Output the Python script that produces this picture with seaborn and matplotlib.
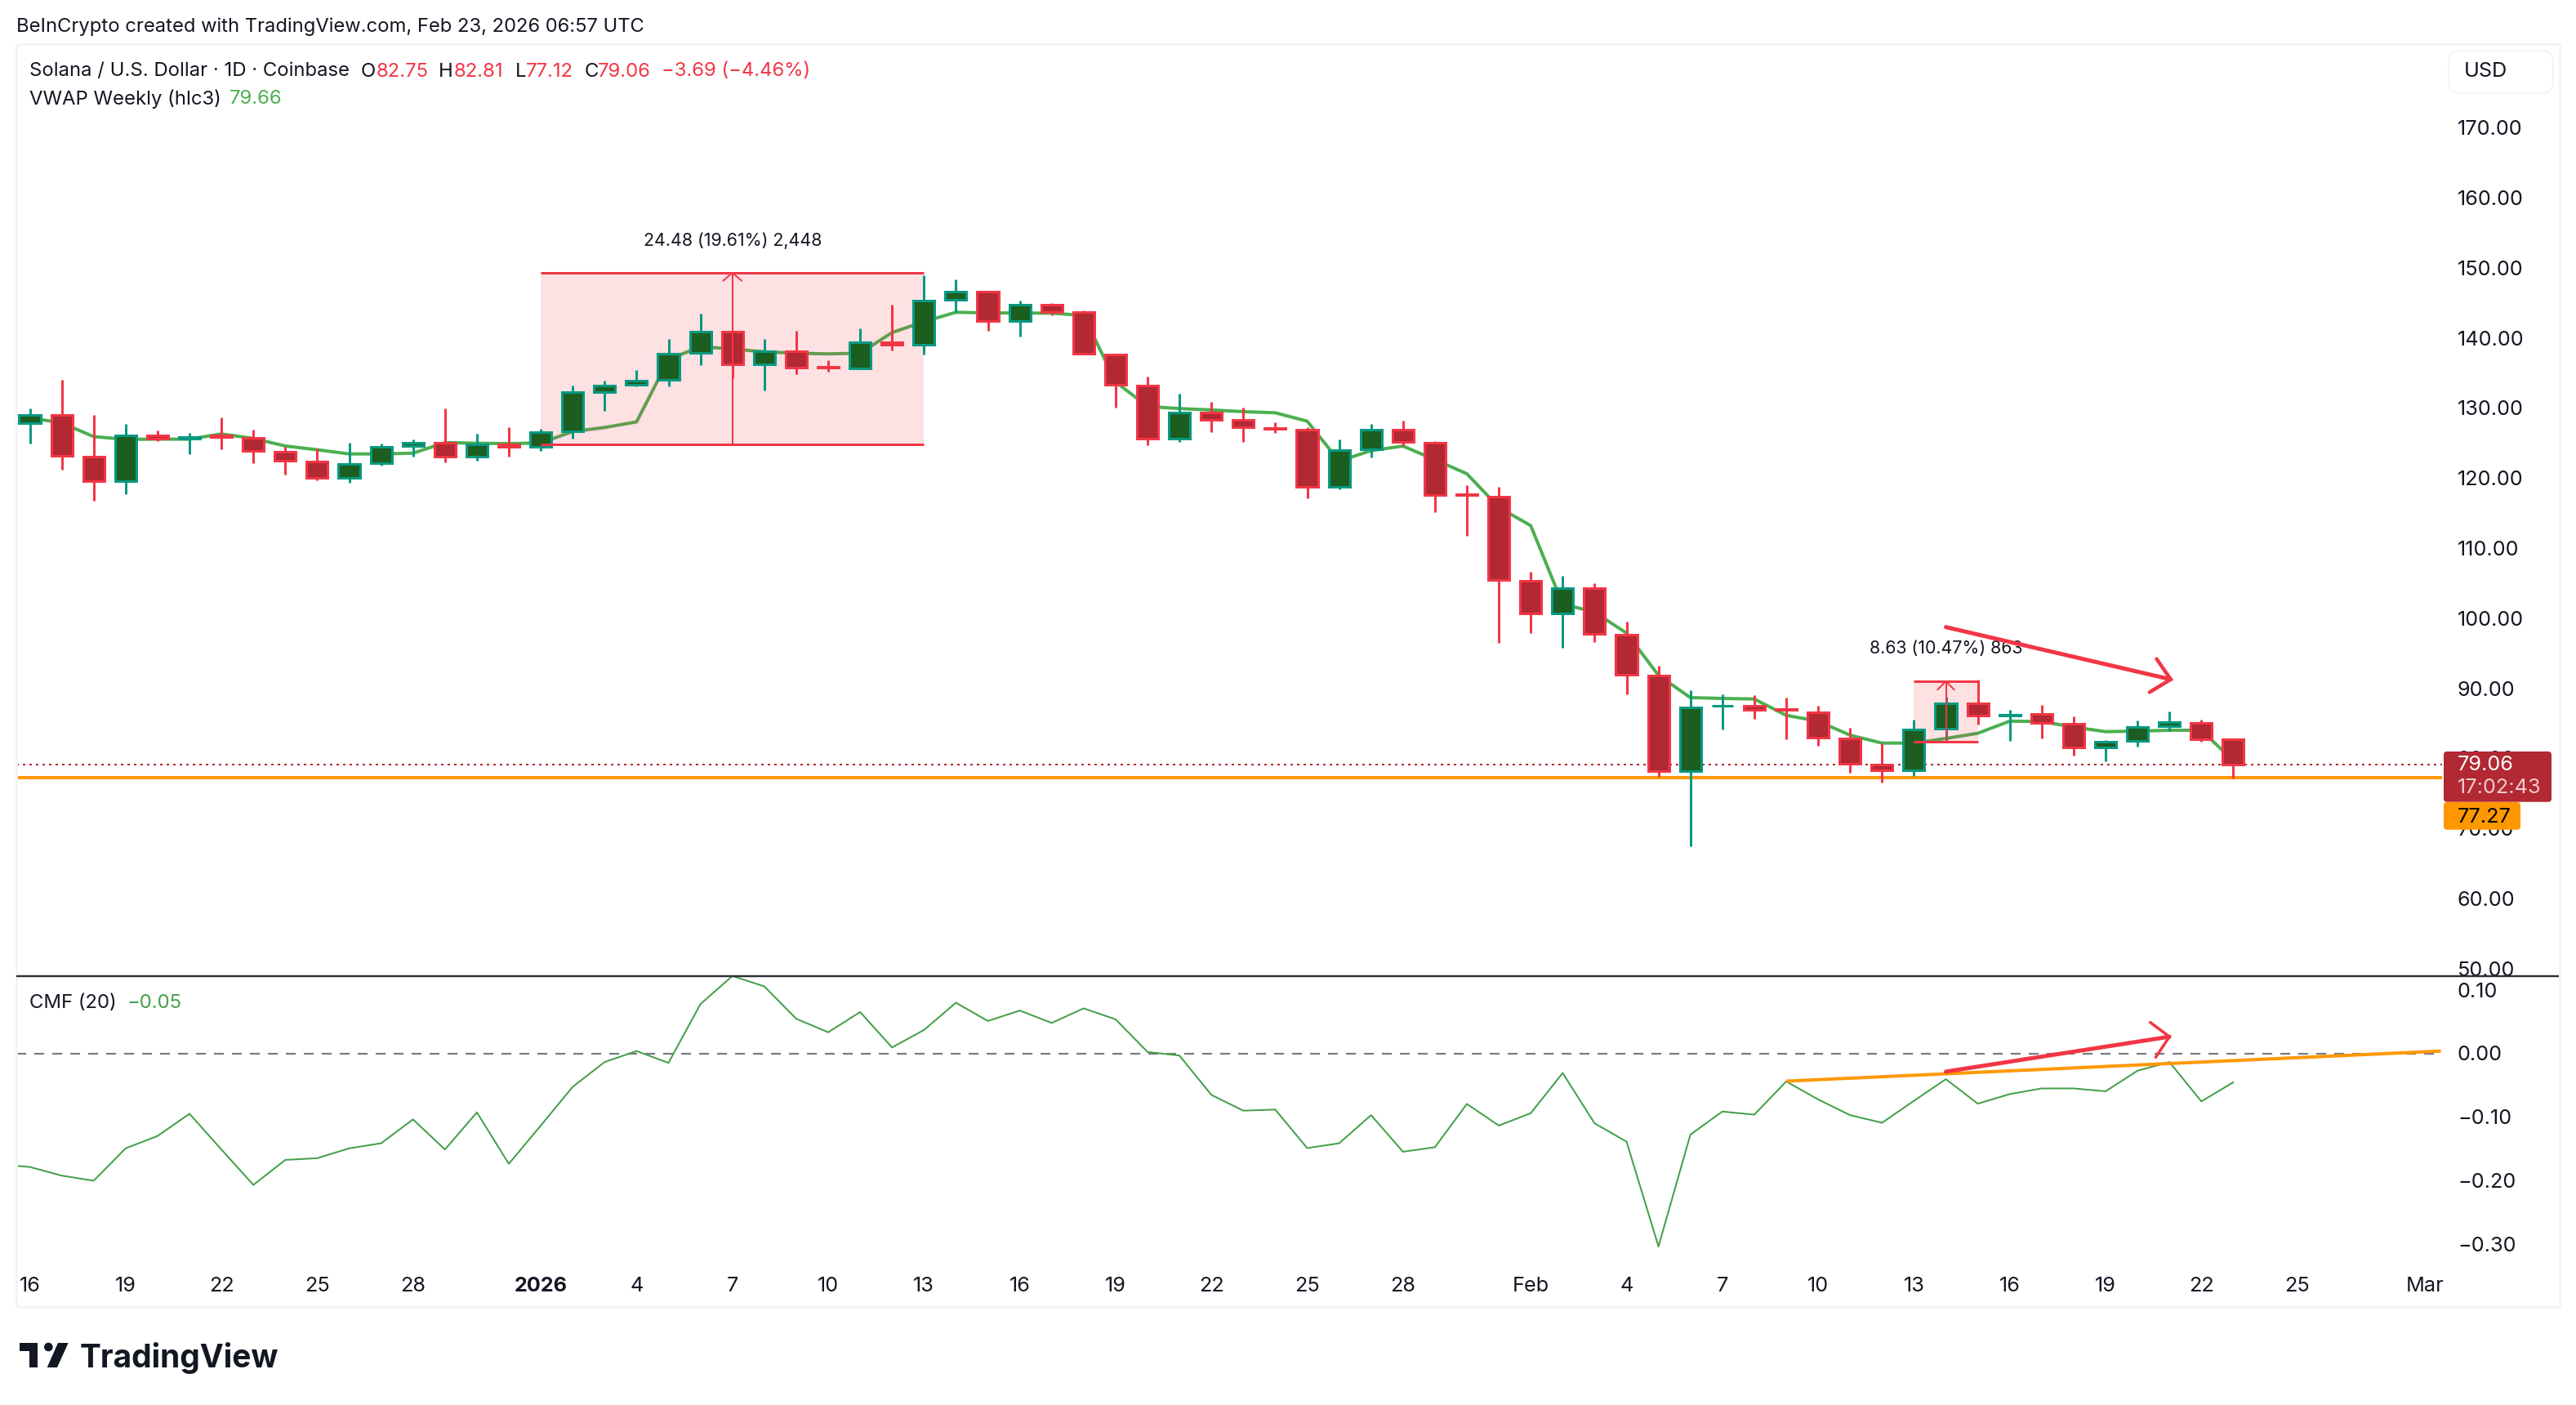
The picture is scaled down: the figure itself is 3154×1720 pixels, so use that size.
import matplotlib
matplotlib.use("Agg")
import matplotlib.pyplot as plt
import seaborn as sns
from matplotlib.lines import Line2D
from matplotlib.patches import FancyBboxPatch, Polygon, Circle, Rectangle

W, H = 3154, 1720
PX = 0.72  # points per pixel at dpi 100

# ---- data -----------------------------------------------------------------
opens = [127.85, 128.97, 123.04, 119.50, 126.08, 125.64, 126.08, 125.74, 123.77, 122.35,
         120.00, 122.10, 124.56, 125.05, 123.04, 124.80, 124.41, 126.62, 132.26, 133.34,
         133.98, 137.80, 140.90, 136.19, 138.05, 135.85, 135.60, 139.40, 138.98, 145.40,
         146.58, 142.41, 144.72, 143.64, 137.65, 133.19, 125.58, 129.36, 128.23, 127.15,
         126.90, 118.72, 124.11, 126.90, 125.04, 117.65, 117.34, 105.37, 100.66, 104.29,
         97.67, 91.84, 78.13, 87.45, 87.45, 87.00, 86.60, 82.87, 79.14, 78.24,
         84.19, 87.88, 86.15, 86.36, 84.97, 81.55, 82.48, 84.54, 85.08, 82.75]
highs = [129.96, 133.98, 128.97, 127.75, 126.77, 126.47, 128.58, 126.86, 124.41, 124.26,
         125.00, 124.90, 125.50, 129.90, 126.28, 127.20, 127.00, 133.15, 133.88, 135.45,
         139.80, 143.45, 141.10, 139.86, 141.00, 136.78, 141.34, 144.67, 148.94, 148.30,
         146.58, 145.36, 144.96, 143.88, 137.65, 134.46, 132.01, 130.83, 130.05, 127.94,
         127.20, 125.49, 127.69, 128.18, 125.24, 118.96, 118.77, 106.60, 106.00, 104.93,
         99.46, 93.20, 89.70, 89.12, 89.00, 88.66, 87.49, 84.34, 82.13, 85.51,
         88.73, 91.18, 86.87, 87.57, 85.94, 82.60, 85.35, 86.67, 85.51, 82.81]
lows = [124.90, 121.22, 116.80, 117.64, 125.25, 123.43, 124.07, 122.15, 120.49, 119.70,
        119.26, 121.80, 123.04, 122.20, 122.45, 123.04, 123.90, 125.64, 129.56, 133.10,
        133.10, 136.04, 134.20, 132.50, 134.86, 135.20, 135.60, 138.24, 137.65, 143.54,
        140.94, 140.20, 143.20, 137.75, 130.05, 124.65, 125.14, 126.52, 125.14, 126.42,
        117.10, 118.37, 122.94, 124.50, 115.13, 111.75, 96.44, 97.86, 95.80, 96.59,
        89.16, 77.39, 67.48, 84.11, 85.62, 82.71, 81.82, 77.93, 76.57, 77.47,
        82.52, 84.85, 82.52, 82.87, 80.42, 79.60, 81.70, 83.92, 82.40, 77.12]
closes = [128.97, 123.18, 119.50, 126.08, 125.64, 125.79, 125.88, 123.82, 122.45, 120.00,
          121.96, 124.41, 125.05, 123.04, 124.80, 124.41, 126.57, 132.20, 133.24, 133.93,
          137.76, 140.90, 136.19, 138.05, 135.80, 135.75, 139.37, 138.98, 145.36, 146.58,
          142.41, 144.72, 143.64, 137.75, 133.29, 125.58, 129.36, 128.28, 127.20, 127.05,
          118.72, 124.01, 126.90, 125.14, 117.54, 117.55, 105.42, 100.66, 104.29, 97.72,
          91.88, 78.13, 87.30, 87.50, 86.87, 86.90, 82.90, 79.18, 78.24, 84.15,
          87.88, 86.05, 86.20, 85.04, 81.55, 82.40, 84.50, 85.12, 82.71, 79.06]
vwap = [128.58, 127.85, 125.90, 125.50, 125.54, 125.54, 126.28, 125.64, 124.56, 124.02,
        123.43, 123.43, 123.53, 125.05, 124.95, 124.90, 125.00, 126.62, 127.20, 128.00,
        136.90, 138.74, 138.40, 138.00, 137.80, 137.70, 137.80, 140.74, 142.30, 143.64,
        143.54, 143.54, 143.50, 143.20, 133.70, 130.20, 129.90, 129.70, 129.46, 129.30,
        128.10, 122.40, 123.90, 124.55, 122.60, 120.60, 115.80, 113.20, 102.00, 100.86,
        97.86, 91.84, 88.66, 88.54, 88.46, 86.13, 85.30, 83.30, 82.17, 82.17,
        82.83, 83.57, 85.30, 85.24, 84.46, 83.80, 83.88, 84.00, 84.00, 79.66]
cmf = [-0.175, -0.1790, -0.1927, -0.2007, -0.1497, -0.1302, -0.0952, -0.1515, -0.2073, -0.1679,
       -0.1652, -0.1497, -0.1417, -0.1041, -0.1515, -0.0930, -0.1741, -0.1138, -0.0527, -0.0137,
       0.0036, -0.0150, 0.0776, 0.1219, 0.1055, 0.0545, 0.0332, 0.0651, 0.0093, 0.0368,
       0.0798, 0.0510, 0.0674, 0.0479, 0.0709, 0.0536, 0.0022, -0.0035, -0.0655, -0.0903,
       -0.0886, -0.1493, -0.1417, -0.0974, -0.1550, -0.1479, -0.0797, -0.1138, -0.0943, -0.0310,
       -0.1103, -0.1391, -0.3043, -0.1280, -0.0917, -0.0966, -0.0443, -0.0726, -0.0974, -0.1094,
       -0.0748, -0.0407, -0.0793, -0.0642, -0.0553, -0.0553, -0.0598, -0.0274, -0.0137, -0.0757,
       -0.0456]
days = list(range(len(opens)))
cmf_days = list(range(-1, len(opens)))

x_tick_days = [0, 3, 6, 9, 12, 16, 19, 22, 25, 28, 31, 34, 37, 40, 43, 47, 50, 53, 56, 59, 62, 65, 68, 71, 75]
x_tick_labels = ["16", "19", "22", "25", "28", "2026", "4", "7", "10", "13", "16", "19", "22", "25", "28",
                 "Feb", "4", "7", "10", "13", "16", "19", "22", "25", "Mar"]
price_ticks = [50, 60, 70, 80, 90, 100, 110, 120, 130, 140, 150, 160, 170]
cmf_ticks = [0.10, 0.00, -0.10, -0.20, -0.30]

last_close = 79.06
support = 77.27
box_a = dict(start=16, end=28, mid=22, low=124.80, high=149.27, label="24.48 (19.61%) 2,448")
box_b = dict(start=59, end=61, mid=60, low=82.36, high=90.99, label="8.63 (10.47%) 863")
cmf_trend_x = [55, 75.5]
cmf_trend_y = [-0.0438, 0.0036]
price_arrow_x = [60.0, 67.04]
price_arrow_y = [98.72, 91.26]
price_head_x = [66.6, 67.04, 66.38]
price_head_y = [94.17, 91.26, 89.43]
cmf_arrow_x = [60.0, 67.0]
cmf_arrow_y = [-0.0288, 0.0262]
cmf_head_x = [66.4, 67.0, 66.57]
cmf_head_y = [0.0488, 0.0262, -0.0062]

# ---- colours ---------------------------------------------------------------
UP_FILL, UP_EDGE = "#1B5E20", "#089981"
DN_FILL, DN_EDGE = "#B22833", "#F23645"
VWAP_C = "#4CAF50"
CMF_C = "#43A047"
ORANGE = "#FF9800"
TXT = "#131722"
BORDER = "#F3F4F6"
FONT = "Inter"
TICK_SIZE = 18.2
TEXT_SIZE = 17.2

sns.set_theme(style="white")
plt.rcParams["font.family"] = [FONT, "DejaVu Sans"]
plt.rcParams["axes.unicode_minus"] = True

fig = plt.figure(figsize=(W / 100, H / 100), dpi=100, facecolor="white")


def add_axes_px(x0, y0, x1, y1):
    return fig.add_axes([x0 / W, 1 - y1 / H, (x1 - x0) / W, (y1 - y0) / H])


def ftext(x, y, s, color=TXT, size=TEXT_SIZE, **kw):
    kw.setdefault("ha", "left")
    kw.setdefault("va", "center")
    return fig.text(x / W, 1 - y / H, s, color=color, fontsize=size, **kw)


LEFT, RIGHT = 20, 2990
SPLIT = 1195
TIME_Y = 1550
xlim = ((LEFT - 36.5) / 39.1, (RIGHT - 36.5) / 39.1)


def price_of(y):
    return 100 - (y - 756.7) / 8.58


def cmf_of(y):
    return (1289.5 - y) / 777


ax = add_axes_px(LEFT, 55, RIGHT, SPLIT)
ax2 = add_axes_px(LEFT, SPLIT, RIGHT, TIME_Y)
for a in (ax, ax2):
    a.set_xlim(*xlim)
    a.patch.set_alpha(0)
    for s in a.spines.values():
        s.set_visible(False)
ax.set_ylim(price_of(SPLIT), price_of(55))
ax2.set_ylim(cmf_of(TIME_Y), cmf_of(SPLIT))

# ---- price pane ------------------------------------------------------------
sns.lineplot(x=days, y=vwap, ax=ax, color=VWAP_C, linewidth=4 * PX, zorder=2, legend=False, errorbar=None)


def position_box(a, b):
    a.add_patch(Rectangle((b["start"], b["low"]), b["end"] - b["start"], b["high"] - b["low"],
                          facecolor=DN_EDGE, alpha=0.15, edgecolor="none", zorder=3))


position_box(ax, box_a)
position_box(ax, box_b)

for d, o, h, l, c in zip(days, opens, highs, lows, closes):
    up = c >= o
    edge = UP_EDGE if up else DN_EDGE
    fill = UP_FILL if up else DN_FILL
    ax.vlines(d, l, h, color=edge, linewidth=3 * PX, zorder=4)
    ax.bar(d, abs(c - o), bottom=min(o, c), width=0.665, color=fill, edgecolor=edge,
           linewidth=3 * PX, zorder=5)

for b, hw, hh in ((box_a, 0.29, 1.13), (box_b, 0.26, 1.2)):
    for yy in (b["low"], b["high"]):
        ax.plot([b["start"], b["end"]], [yy, yy], color=DN_EDGE, lw=3 * PX, zorder=6,
                solid_capstyle="butt")
    ax.plot([b["mid"], b["mid"]], [b["low"], b["high"]], color=DN_EDGE, lw=2 * PX, zorder=6)
    ax.plot([b["mid"] - hw, b["mid"], b["mid"] + hw], [b["high"] - hh, b["high"], b["high"] - hh],
            color=DN_EDGE, lw=2 * PX, zorder=6)

ax.text(box_a["mid"], price_of(294.6), box_a["label"], ha="center", va="center", fontsize=15.4, color=TXT)
ax.text(box_b["mid"], price_of(794), box_b["label"], ha="center", va="center", fontsize=15.4, color=TXT, zorder=7)

ax.axhline(last_close, color=DN_FILL, lw=2 * PX, linestyle=(0, (1.5, 2.5)), zorder=3)
ax.axhline(support, color=ORANGE, lw=4 * PX, zorder=3.5)

ax.plot(price_arrow_x, price_arrow_y, color=DN_EDGE, lw=5 * PX, zorder=8, solid_capstyle="round")
ax.plot(price_head_x, price_head_y, color=DN_EDGE, lw=4.5 * PX, zorder=8, solid_capstyle="round",
        solid_joinstyle="miter")

ax.yaxis.tick_right()
ax.set_yticks(price_ticks)
ax.set_yticklabels([f"{t:.2f}" for t in price_ticks])
ax.tick_params(axis="y", length=0, pad=19 * PX, labelsize=TICK_SIZE, labelcolor=TXT)
ax.tick_params(axis="x", length=0, labelbottom=False)
ax.set_xticks([])
ax.set_xlabel("")
ax.set_ylabel("")

# ---- CMF pane --------------------------------------------------------------
ax2.axhline(0, color="#787B86", lw=2.2 * PX, linestyle=(0, (5.5, 4.5)), zorder=1)
sns.lineplot(x=cmf_days, y=cmf, ax=ax2, color=CMF_C, linewidth=2 * PX, zorder=2, legend=False, errorbar=None)
ax2.plot(cmf_trend_x, cmf_trend_y, color=ORANGE, lw=4 * PX, zorder=3, solid_capstyle="butt")
ax2.plot(cmf_arrow_x, cmf_arrow_y, color=DN_EDGE, lw=5 * PX, zorder=4, solid_capstyle="round")
ax2.plot(cmf_head_x, cmf_head_y, color=DN_EDGE, lw=3.5 * PX, zorder=4, solid_capstyle="round",
         solid_joinstyle="miter")

ax2.yaxis.tick_right()
ax2.set_yticks(cmf_ticks)
ax2.set_yticklabels([f"{t:.2f}".replace("-", "\u2212") for t in cmf_ticks])
ax2.tick_params(axis="y", length=0, pad=19 * PX, labelsize=TICK_SIZE, labelcolor=TXT)
ax2.set_xticks(x_tick_days)
ax2.set_xticklabels(x_tick_labels)
ax2.tick_params(axis="x", length=0, pad=13 * PX, labelsize=TICK_SIZE, labelcolor=TXT)
for lab in ax2.get_xticklabels():
    if lab.get_text() == "2026":
        lab.set_fontweight("bold")
ax2.set_xlabel("")
ax2.set_ylabel("")

# ---- chrome ----------------------------------------------------------------
def fline(x0, y0, x1, y1, color=BORDER, lw=3.0, **kw):
    fig.add_artist(Line2D([x0 / W, x1 / W], [1 - y0 / H, 1 - y1 / H], color=color, lw=lw * PX,
                          transform=fig.transFigure, solid_capstyle="butt", **kw))


fline(20, 54, 3134, 54)
fline(3134, 54, 3134, 1600)
fline(20, 1600, 3134, 1600)
fline(20, 54, 20, 1600)
fline(20, 1195, 3133, 1195, color="#2A2E39", lw=2.4, zorder=3)


def px_round_box(x0, y0, x1, y1, face, edge="none", lw=0, rad=4, zorder=2):
    p = FancyBboxPatch((x0, H - y1), x1 - x0, y1 - y0, boxstyle=f"round,pad=0,rounding_size={rad}",
                       facecolor=face, edgecolor=edge, linewidth=lw, transform=None, zorder=zorder)
    fig.add_artist(p)


px_round_box(2998, 62, 3126, 114, face="white", edge=BORDER, lw=2 * PX, rad=14)
ftext(3016.7, 87, "USD", size=TICK_SIZE, zorder=4)

px_round_box(2992, 920, 3124, 981.7, face=DN_FILL, rad=4)
px_round_box(2992, 982, 3086, 1015.7, face=ORANGE, rad=4)
ftext(3009, 936.7, "79.06", color="white", size=TICK_SIZE, zorder=4)
ftext(3009, 964, "17:02:43", color="#F0C9CD", size=TICK_SIZE, zorder=4)
ftext(3009, 1000, "77.27", color="#000000", size=TICK_SIZE, zorder=4)

ftext(20, 32.5, "BeInCrypto created with TradingView.com, Feb 23, 2026 06:57 UTC", size=17.1)
ftext(36.5, 87.5, "Solana / U.S. Dollar \u00b7 1D \u00b7 Coinbase")
for x, s, c in [(442, "O", TXT), (461, "82.75", DN_EDGE), (537, "H", TXT), (556, "82.81", DN_EDGE),
                (631, "L", TXT), (644, "77.12", DN_EDGE), (715.5, "C", TXT), (732, "79.06", DN_EDGE),
                (810, "\u22123.69 (\u22124.46%)", DN_EDGE)]:
    ftext(x, 87.5, s, color=c)
ftext(36.5, 121, "VWAP Weekly (hlc3)")
ftext(280.6, 121, "79.66", color=VWAP_C)
ftext(36.5, 1228, "CMF (20)")
ftext(156, 1228, "\u22120.05", color=CMF_C)

# TradingView logo
LOGO = "#131722"


def lx(z):
    return 10 + z / 3


def ly(z):
    return H - (1620 + z / 3)


fig.add_artist(Polygon([(lx(a), ly(b)) for a, b in [(42, 72), (108, 72), (108, 162), (78, 162), (78, 103), (42, 103)]],
                       closed=True, facecolor=LOGO, edgecolor="none", transform=None))
fig.add_artist(Polygon([(lx(a), ly(b)) for a, b in [(183, 72), (221, 72), (180, 162), (143, 162)]],
                       closed=True, facecolor=LOGO, edgecolor="none", transform=None))
fig.add_artist(Circle((lx(148), ly(87)), 16 / 3, facecolor=LOGO, edgecolor="none", transform=None))
fig.text(lx(262) / W, ly(162) / H, "TradingView", color=LOGO, fontsize=28, fontweight="bold",
         ha="left", va="baseline", family=[FONT, "DejaVu Sans"])

fig.savefig("out.png", dpi=100, facecolor="white")
